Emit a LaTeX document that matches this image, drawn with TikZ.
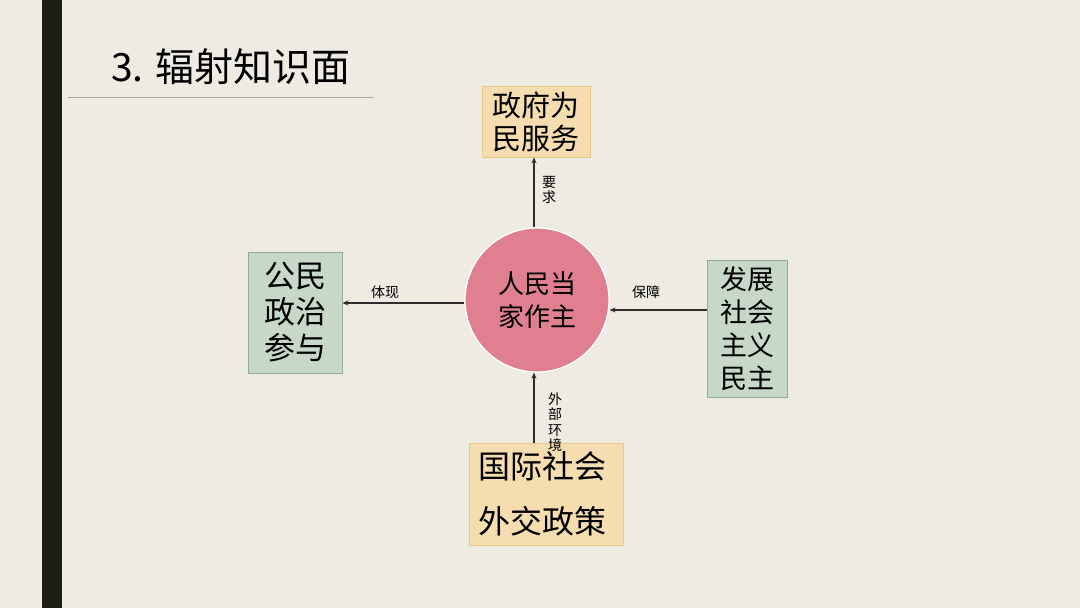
\documentclass[tikz,border=0pt]{standalone}
\usepackage{fontspec}
\setmainfont{Noto Sans CJK SC}
\usetikzlibrary{arrows.meta}
\definecolor{bgc}{HTML}{EEEBE3}
\definecolor{barc}{HTML}{1C1E12}
\definecolor{orf}{HTML}{F6DDB0}
\definecolor{ord}{HTML}{E9C98A}
\definecolor{grf}{HTML}{C8D8C8}
\definecolor{grd}{HTML}{8DB08D}
\definecolor{pkf}{HTML}{E07F90}
\definecolor{arc}{HTML}{2E2E2E}
\begin{document}
\begin{tikzpicture}[x=1pt,y=-1pt,
  orbox/.style={draw=ord, line width=0.8pt, fill=orf, inner sep=0pt, align=center},
  grbox/.style={draw=grd, line width=0.8pt, fill=grf, inner sep=0pt, align=center},
  arr/.style={draw=arc, line width=1.1pt, -{Stealth[length=6pt,width=5pt]}},
  lab/.style={inner sep=0pt, align=center, font=\fontsize{14}{15.5}\selectfont}
]
\fill[bgc] (0,0) rectangle (1080,608);
\useasboundingbox (0,0) rectangle (1080,608);
\fill[barc] (42,0) rectangle (62,608);
\node[anchor=west, inner sep=0pt, font=\fontsize{39}{42}\selectfont] (title) at (111,67) {3. 辐射知识面};
\draw[color=black!35, line width=1pt] (68,97) -- (374,97);

% nodes
\node[circle, draw=white, line width=1.2pt, fill=pkf, minimum size=144pt, inner sep=0pt, align=center,
  font=\fontsize{26}{33}\selectfont] (c) at (537,300) {人民当\\家作主};
\node[orbox, minimum width=108pt, minimum height=71pt, font=\fontsize{29}{33}\selectfont] (top) at (536,121.5) {政府为\\民服务};
\node[grbox, minimum width=94pt, minimum height=121pt, font=\fontsize{31}{36}\selectfont] (left) at (295,312.5) {公民\\政治\\参与};
\node[grbox, minimum width=80pt, minimum height=137pt, font=\fontsize{27}{33}\selectfont] (right) at (747,328.5) {发展\\社会\\主义\\民主};
\node[orbox, minimum width=154pt, minimum height=102pt, text width=136pt, align=left, font=\fontsize{32}{55}\selectfont] (bot) at (546,494) {国际社会\\外交政策};

% connectors
\draw[arr] ([xshift=-3pt]c.north) -- ([xshift=-3pt]c.north |- top.south);
\draw[arr] ([yshift=-3pt]c.west) -- ([yshift=-3pt]c.west -| left.east);
\draw[arr] ([yshift=18.5pt]right.west) -- ([yshift=18.5pt]right.west -| c.east);
\draw[arr] ([xshift=-3pt]bot.north -| c.south) -- ([xshift=-3pt]c.south);

% labels
\node[lab] (l1) at (549,190) {要\\求};
\node[lab] (l2) at (385,292) {体现};
\node[lab] (l3) at (646,292) {保障};
\node[lab] (l4) at (555,422) {外\\部\\环\\境};
\end{tikzpicture}
\end{document}
